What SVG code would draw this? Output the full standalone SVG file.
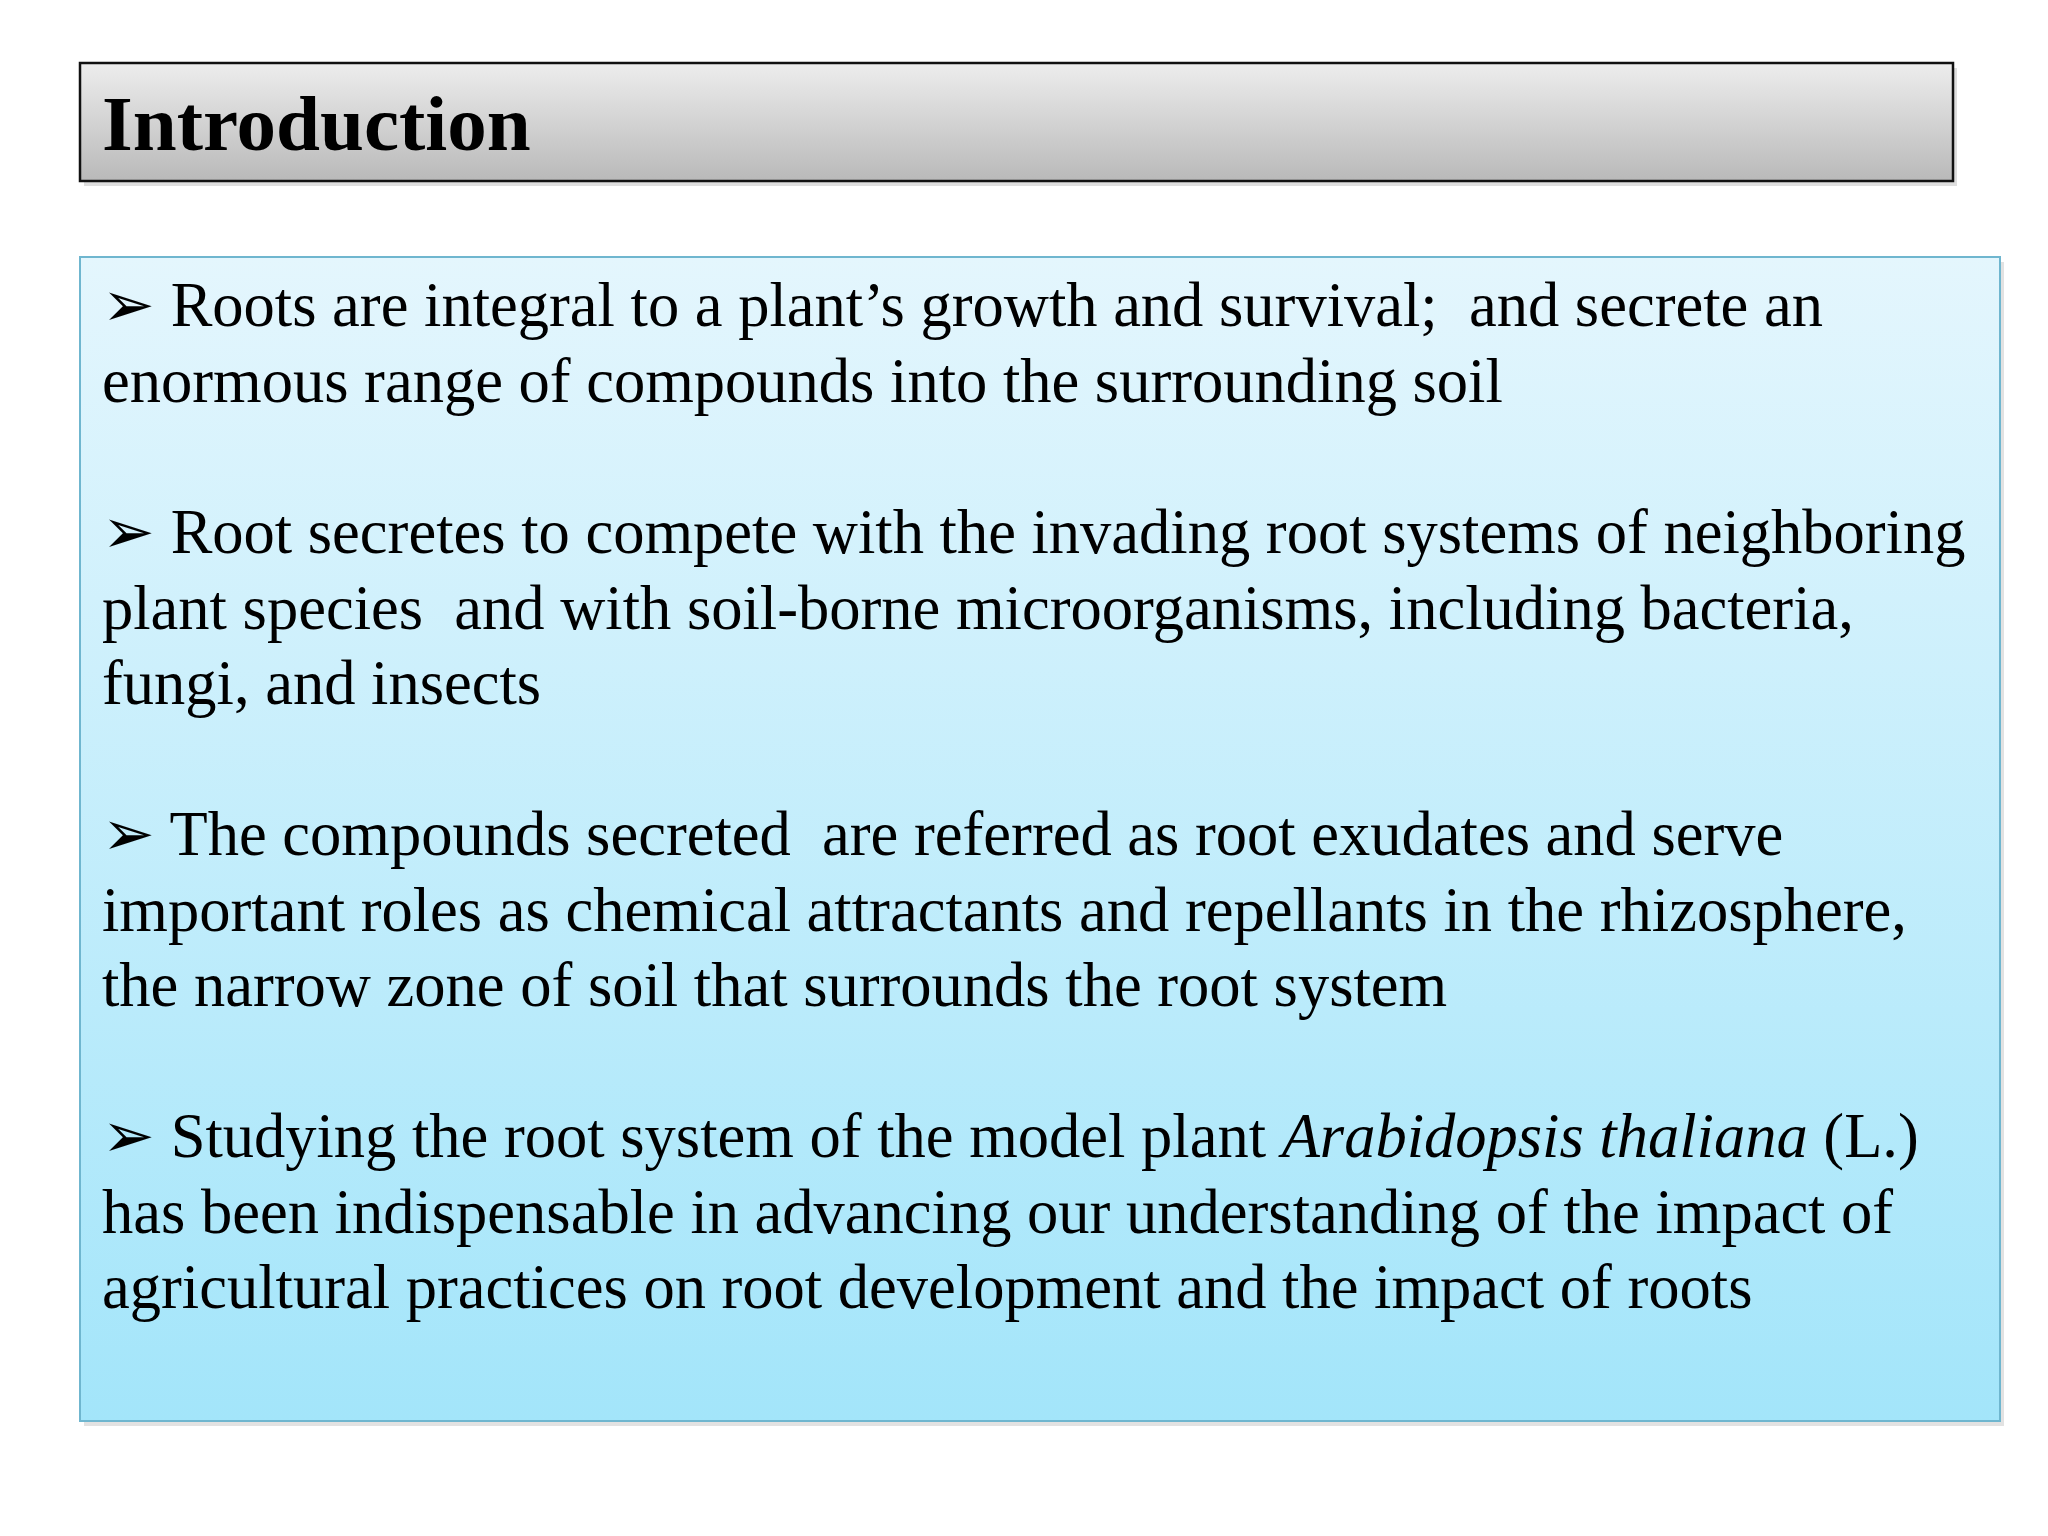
<svg xmlns="http://www.w3.org/2000/svg" width="2048" height="1536" viewBox="0 0 2048 1536">
<defs>
<linearGradient id="tg" x1="0" y1="0" x2="0" y2="1"><stop offset="0" stop-color="#ededed"/><stop offset="1" stop-color="#b9b9b9"/></linearGradient>
<linearGradient id="bg" x1="0" y1="0" x2="0" y2="1"><stop offset="0" stop-color="#e4f6fd"/><stop offset="1" stop-color="#a3e5fa"/></linearGradient>
<style>.t{font-family:"Liberation Serif",serif;font-size:62.5px;fill:#000;white-space:pre}</style>
</defs>
<rect width="2048" height="1536" fill="#fff"/>
<g id="title">
<rect x="84" y="68" width="1873" height="118" fill="#c8c8c8" opacity="0.6"/>
<rect x="80" y="63" width="1873" height="118" fill="url(#tg)" stroke="#111" stroke-width="2.5"/>
<text x="102" y="150" font-family="Liberation Serif,serif" font-weight="bold" font-size="79">Introduction</text>
</g>
<g id="content">
<rect x="84" y="262" width="1920" height="1164" fill="#cfcfcf" opacity="0.6"/>
<rect x="80" y="257" width="1920" height="1164" fill="url(#bg)" stroke="#6fb6cf" stroke-width="2"/>
<text class="t" x="102" y="326" xml:space="preserve">➢ Roots are integral to a plant’s growth and survival;  and secrete an</text>
<text class="t" x="102" y="402">enormous range of compounds into the surrounding soil</text>
<text class="t" x="102" y="553">➢ Root secretes to compete with the invading root systems of neighboring</text>
<text class="t" x="102" y="629" xml:space="preserve">plant species  and with soil-borne microorganisms, including bacteria,</text>
<text class="t" x="102" y="704">fungi, and insects</text>
<text class="t" x="102" y="855" xml:space="preserve">➢ The compounds secreted  are referred as root exudates and serve</text>
<text class="t" x="102" y="931">important roles as chemical attractants and repellants in the rhizosphere,</text>
<text class="t" x="102" y="1006">the narrow zone of soil that surrounds the root system</text>
<text class="t" x="102" y="1157" xml:space="preserve">➢ Studying the root system of the model plant <tspan font-style="italic">Arabidopsis thaliana</tspan> (L.)</text>
<text class="t" x="102" y="1233">has been indispensable in advancing our understanding of the impact of</text>
<text class="t" x="102" y="1308">agricultural practices on root development and the impact of roots</text>
</g>
</svg>
